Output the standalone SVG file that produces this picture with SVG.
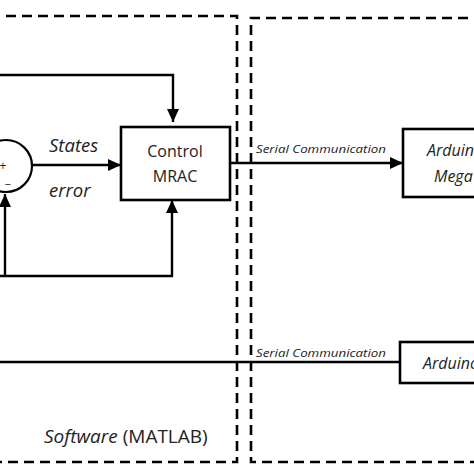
<svg xmlns="http://www.w3.org/2000/svg" width="474" height="474" viewBox="0 0 474 474">
<style>
.dash{fill:none;stroke:#000;stroke-width:2.6;stroke-dasharray:10 6}
.box{fill:#fff;stroke:#000;stroke-width:2.6}
.ln{fill:none;stroke:#000;stroke-width:2.4}
.t{font-family:"Open Sans","Liberation Sans",sans-serif;fill:#222}
.i{font-style:italic}
</style>
<defs>
<marker id="ahb" markerWidth="13" markerHeight="12" refX="13" refY="6" orient="auto" markerUnits="userSpaceOnUse" viewBox="0 0 13 12">
<path d="M0,0 L13,6 L0,12 Z" fill="#000"/>
</marker>
</defs>
<g id="software-region">
<path class="dash" d="M-10,16 H237 V462 H-10"/>
<text class="t" x="44" y="443" font-size="19"><tspan class="i">Software</tspan> (MATLAB)</text>
</g>
<g id="hardware-region">
<path class="dash" d="M484,18 H251 V462 H484"/>
</g>
<g id="connectors">
<path class="ln" d="M0,75 H173 V122" marker-end="url(#ahb)"/>
<path class="ln" d="M32,165 H121" marker-end="url(#ahb)"/>
<path class="ln" d="M0,276 H172 V200" marker-end="url(#ahb)"/>
<path class="ln" d="M5,276 V194" marker-end="url(#ahb)"/>
<path class="ln" d="M230,163 H403" marker-end="url(#ahb)"/>
<path class="ln" d="M0,362 H400"/>
<text class="t i" x="256" y="153" font-size="11.5" textLength="130" lengthAdjust="spacingAndGlyphs">Serial Communication</text>
<text class="t i" x="256" y="357" font-size="11.5" textLength="130" lengthAdjust="spacingAndGlyphs">Serial Communication</text>
<text class="t i" x="49" y="152" font-size="18.5" font-weight="500">States</text>
<text class="t i" x="49" y="197" font-size="18.5" font-weight="500">error</text>
</g>
<g id="sum">
<circle cx="6" cy="166" r="26" fill="#fff" stroke="#000" stroke-width="2.2"/>
<text class="t" x="3" y="170" font-size="12" text-anchor="middle">+</text>
<text class="t" x="8" y="183" font-size="12" text-anchor="middle">_</text>
</g>
<g id="control-mrac">
<rect class="box" x="121" y="127" width="109" height="73"/>
<text class="t" x="175" y="157" font-size="16" text-anchor="middle">Control</text>
<text class="t" x="175" y="182" font-size="16" text-anchor="middle">MRAC</text>
</g>
<g id="arduino-mega">
<rect class="box" x="403" y="129" width="90" height="68"/>
<text class="t i" x="427" y="156" font-size="16">Arduino</text>
<text class="t i" x="434" y="182" font-size="16">Mega</text>
</g>
<g id="arduino-2">
<rect class="box" x="400" y="342" width="90" height="41"/>
<text class="t i" x="423" y="369" font-size="16">Arduino</text>
</g>
</svg>
